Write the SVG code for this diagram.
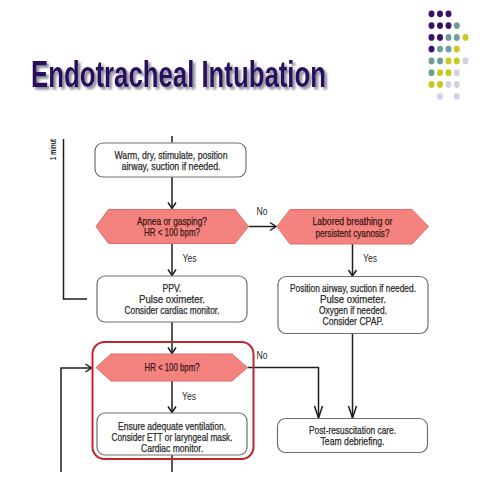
<svg xmlns="http://www.w3.org/2000/svg" width="480" height="480" viewBox="0 0 480 480">
<style>
.box{fill:#fff;stroke:#6e6e6e;stroke-width:1.2}
.hex{fill:#f4827f;stroke:#e06a68;stroke-width:1}
.t{font-family:"Liberation Sans",Arial,sans-serif;font-size:11px;fill:#2a2a2a;stroke:#2a2a2a;stroke-width:0.25;text-anchor:middle}
.ht{font-family:"Liberation Sans",Arial,sans-serif;font-size:11px;fill:#3a1616;stroke:#3a1616;stroke-width:0.25;text-anchor:middle}
.lb{font-family:"Liberation Sans",Arial,sans-serif;font-size:11px;fill:#2a2a2a}
.c{fill:none;stroke:#1e1e1e;stroke-width:1.5}
.p{fill:#3b1266}.g{fill:#6d9d9c}.y{fill:#c9c91f}.l{fill:#d2d2e6}
</style>
<defs>
<linearGradient id="bar" x1="0" y1="0" x2="1" y2="0">
<stop offset="0" stop-color="#000"/>
<stop offset="0.22" stop-color="#0a0805"/>
<stop offset="0.45" stop-color="#5a4208"/>
<stop offset="0.7" stop-color="#c99a12"/>
<stop offset="1" stop-color="#f7c21e"/>
</linearGradient>
<filter id="sh" x="-5%" y="-20%" width="110%" height="150%">
<feDropShadow dx="2.5" dy="2.5" stdDeviation="0.8" flood-color="#7a7a8e" flood-opacity="0.9"/>
</filter>
<marker id="ah" viewBox="-9 -6 11 12" markerWidth="11" markerHeight="12" markerUnits="userSpaceOnUse" refX="0" refY="0" orient="auto">
<path d="M-6,-4 L0,0 L-6,4" fill="none" stroke="#1e1e1e" stroke-width="1.5"/>
</marker>
<marker id="al" viewBox="-14 -6 16 12" markerWidth="16" markerHeight="12" markerUnits="userSpaceOnUse" refX="0" refY="0" orient="auto">
<path d="M-12,-4 L0,0 L-12,4" fill="none" stroke="#1e1e1e" stroke-width="1.5"/>
</marker>
</defs>
<rect width="480" height="480" fill="#fff"/>

<g id="header">
<text x="31" y="87" font-family="Liberation Sans,Arial,sans-serif" font-weight="bold" font-size="36" fill="#2b0a5c" textLength="295" lengthAdjust="spacingAndGlyphs" filter="url(#sh)">Endotracheal Intubation</text>
<line x1="27" y1="109.3" x2="437" y2="109.3" stroke="url(#bar)" stroke-width="6" stroke-linecap="round"/>
</g>

<g id="dots">
<ellipse class="p" cx="431.5" cy="13.8" rx="3" ry="3.4"/><ellipse class="p" cx="440" cy="13.8" rx="3" ry="3.4"/><ellipse class="p" cx="448.5" cy="13.8" rx="3" ry="3.4"/>
<ellipse class="p" cx="431.5" cy="25.6" rx="3" ry="3.4"/><ellipse class="p" cx="440" cy="25.6" rx="3" ry="3.4"/><ellipse class="p" cx="448.5" cy="25.6" rx="3" ry="3.4"/><ellipse class="g" cx="456.8" cy="25.6" rx="3" ry="3.4"/>
<ellipse class="p" cx="431.5" cy="37.4" rx="3" ry="3.4"/><ellipse class="p" cx="440" cy="37.4" rx="3" ry="3.4"/><ellipse class="g" cx="448.5" cy="37.4" rx="3" ry="3.4"/><ellipse class="g" cx="456.8" cy="37.4" rx="3" ry="3.4"/><ellipse class="y" cx="465.5" cy="37.4" rx="3" ry="3.4"/>
<ellipse class="p" cx="431.5" cy="49.1" rx="3" ry="3.4"/><ellipse class="g" cx="440" cy="49.1" rx="3" ry="3.4"/><ellipse class="g" cx="448.5" cy="49.1" rx="3" ry="3.4"/><ellipse class="y" cx="456.8" cy="49.1" rx="3" ry="3.4"/>
<ellipse class="g" cx="431.5" cy="60.9" rx="3" ry="3.4"/><ellipse class="g" cx="440" cy="60.9" rx="3" ry="3.4"/><ellipse class="y" cx="448.5" cy="60.9" rx="3" ry="3.4"/><ellipse class="y" cx="456.8" cy="60.9" rx="3" ry="3.4"/><ellipse class="l" cx="465.5" cy="60.9" rx="3" ry="3.4"/>
<ellipse class="g" cx="431.5" cy="72.7" rx="3" ry="3.4"/><ellipse class="y" cx="440" cy="72.7" rx="3" ry="3.4"/><ellipse class="y" cx="448.5" cy="72.7" rx="3" ry="3.4"/><ellipse class="l" cx="456.8" cy="72.7" rx="3" ry="3.4"/>
<ellipse class="y" cx="431.5" cy="84.5" rx="3" ry="3.4"/><ellipse class="y" cx="440" cy="84.5" rx="3" ry="3.4"/><ellipse class="l" cx="448.5" cy="84.5" rx="3" ry="3.4"/><ellipse class="l" cx="456.8" cy="84.5" rx="3" ry="3.4"/>
<ellipse class="l" cx="440" cy="96.3" rx="3" ry="3.4"/><ellipse class="l" cx="456.8" cy="96.3" rx="3" ry="3.4"/>
</g>

<g id="connectors">
<line class="c" x1="172" y1="136" x2="172" y2="142.5"/>
<line class="c" x1="172" y1="177" x2="172" y2="208.5" marker-end="url(#ah)"/>
<line class="c" x1="248.5" y1="226.5" x2="276" y2="226.5" marker-end="url(#ah)"/>
<line class="c" x1="172" y1="243.5" x2="172" y2="275.5" marker-end="url(#ah)"/>
<line class="c" x1="352.5" y1="244" x2="352.5" y2="276" marker-end="url(#ah)"/>
<line class="c" x1="172" y1="322" x2="172" y2="353.5" marker-end="url(#ah)"/>
<line class="c" x1="172" y1="381" x2="172" y2="412.5" marker-end="url(#ah)"/>
<polyline class="c" points="247.5,367.5 318.5,367.5 318.5,418" marker-end="url(#al)"/>
<line class="c" x1="352.5" y1="333.5" x2="352.5" y2="418" marker-end="url(#al)"/>
<line class="c" x1="172" y1="455" x2="172" y2="472"/>
<polyline class="c" points="61,472 61,368 91.5,368" marker-end="url(#ah)"/>
<polyline class="c" points="63.5,139 63.5,299 87,299"/>
<text class="lb" x="256.5" y="215" textLength="11" lengthAdjust="spacingAndGlyphs">No</text>
<text class="lb" x="182.5" y="261.5" textLength="14" lengthAdjust="spacingAndGlyphs">Yes</text>
<text class="lb" x="363" y="261.5" textLength="14" lengthAdjust="spacingAndGlyphs">Yes</text>
<text class="lb" x="256.5" y="358.5" textLength="11" lengthAdjust="spacingAndGlyphs">No</text>
<text class="lb" x="182" y="399.5" textLength="14" lengthAdjust="spacingAndGlyphs">Yes</text>
<text transform="translate(55.5,149.5) rotate(-90)" font-family="Liberation Sans,Arial,sans-serif" font-weight="bold" font-size="8.5" fill="#2a2a2a" text-anchor="middle" textLength="21" lengthAdjust="spacingAndGlyphs">1 minut</text>
</g>

<g id="n-warm">
<rect class="box" x="95" y="143" width="151" height="34" rx="8"/>
<text class="t" x="171" y="158.5" textLength="113" lengthAdjust="spacingAndGlyphs">Warm, dry, stimulate, position</text>
<text class="t" x="171" y="170" textLength="99" lengthAdjust="spacingAndGlyphs">airway, suction if needed.</text>
</g>

<g id="n-apnea">
<polygon class="hex" points="96,226.5 108.5,209.5 235,209.5 248.5,226.5 235,243.5 108.5,243.5"/>
<text class="ht" x="172" y="224.5" textLength="70" lengthAdjust="spacingAndGlyphs">Apnea or gasping?</text>
<text class="ht" x="172" y="236" textLength="56" lengthAdjust="spacingAndGlyphs">HR &lt; 100 bpm?</text>
</g>

<g id="n-labored">
<polygon class="hex" points="277,226.5 290,209.5 412,209.5 428.5,226.5 412,244 290,244"/>
<text class="ht" x="352.5" y="224.5" textLength="80" lengthAdjust="spacingAndGlyphs">Labored breathing or</text>
<text class="ht" x="352.5" y="236.5" textLength="74" lengthAdjust="spacingAndGlyphs">persistent cyanosis?</text>
</g>

<g id="n-ppv">
<rect class="box" x="97" y="276" width="150" height="46" rx="8"/>
<text class="t" x="172" y="291.5" textLength="19" lengthAdjust="spacingAndGlyphs">PPV.</text>
<text class="t" x="172" y="302.5" textLength="66" lengthAdjust="spacingAndGlyphs">Pulse oximeter.</text>
<text class="t" x="172" y="314" textLength="95" lengthAdjust="spacingAndGlyphs">Consider cardiac monitor.</text>
</g>

<g id="n-position">
<rect class="box" x="278" y="276.5" width="150" height="57" rx="8"/>
<text class="t" x="353" y="291.5" textLength="126" lengthAdjust="spacingAndGlyphs">Position airway, suction if needed.</text>
<text class="t" x="353" y="302.5" textLength="66" lengthAdjust="spacingAndGlyphs">Pulse oximeter.</text>
<text class="t" x="353" y="313.5" textLength="68" lengthAdjust="spacingAndGlyphs">Oxygen if needed.</text>
<text class="t" x="353" y="325" textLength="61" lengthAdjust="spacingAndGlyphs">Consider CPAP.</text>
</g>

<g id="n-group">
<rect x="92.5" y="342" width="161" height="117" rx="12" fill="none" stroke="#c0262c" stroke-width="2"/>
</g>

<g id="n-hr">
<polygon class="hex" points="96,367.5 111,354 232,354 247.5,367.5 232,381 111,381"/>
<text class="ht" x="172" y="371" textLength="55" lengthAdjust="spacingAndGlyphs">HR &lt; 100 bpm?</text>
</g>

<g id="n-ensure">
<rect class="box" x="97" y="413" width="150" height="42" rx="8"/>
<text class="t" x="172" y="429.5" textLength="108" lengthAdjust="spacingAndGlyphs">Ensure adequate ventilation.</text>
<text class="t" x="172" y="441" textLength="121" lengthAdjust="spacingAndGlyphs">Consider ETT or laryngeal mask.</text>
<text class="t" x="172" y="452" textLength="62" lengthAdjust="spacingAndGlyphs">Cardiac monitor.</text>
</g>

<g id="n-post">
<rect class="box" x="277.5" y="418.5" width="150" height="34" rx="8"/>
<text class="t" x="352.5" y="433.5" textLength="87" lengthAdjust="spacingAndGlyphs">Post-resuscitation care.</text>
<text class="t" x="352.5" y="445" textLength="64" lengthAdjust="spacingAndGlyphs">Team debriefing.</text>
</g>
</svg>
